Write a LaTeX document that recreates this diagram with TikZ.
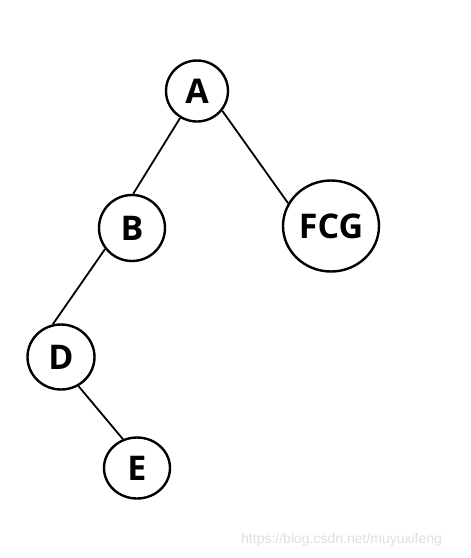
\documentclass[tikz,border=0pt]{standalone}
\usepackage{fontspec}
\setmainfont{Open Sans}
\newfontfamily\wmfont{Liberation Sans}
\usetikzlibrary{shapes.geometric}
\begin{document}
\begin{tikzpicture}[x=1pt,y=-1pt,
  tnode/.style={ellipse,draw=black,line width=2.4pt,inner sep=0pt,
    font=\fontsize{34}{34}\selectfont\bfseries},
  edge/.style={line width=1.8pt,black}]
\useasboundingbox[fill=white] (0,0) rectangle (471,558);
\node[tnode,minimum width=62,minimum height=61] (A) at (197,91) {A};
\node[tnode,minimum width=66,minimum height=66] (B) at (132,228) {B};
\node[tnode,minimum width=96,minimum height=91] (F) at (331,226) {FCG};
\node[tnode,minimum width=67,minimum height=65] (D) at (61,357) {D};
\node[tnode,minimum width=66,minimum height=61] (E) at (137,468) {E};
\draw[edge] (A.238) -- (B.88);
\draw[edge] (A.322) -- (F.152);
\draw[edge] (B.218) -- (D.104);
\draw[edge] (D.301) -- (E.116);
\node[anchor=west,inner sep=0pt,text=black!12,font=\wmfont\fontsize{14}{14}\selectfont] (W) at (241,540) {https://blog.csdn.net/muyuxifeng};
\end{tikzpicture}
\end{document}
